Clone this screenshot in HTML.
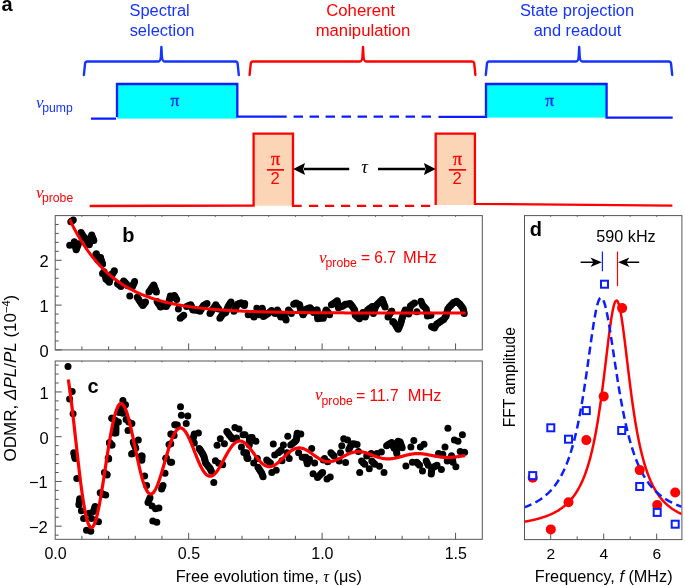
<!DOCTYPE html>
<html><head><meta charset="utf-8"><title>Figure</title>
<style>html,body{margin:0;padding:0;background:#fff;overflow:hidden}svg{display:block}</style>
</head><body>
<svg width="685" height="586" viewBox="0 0 685 586"><text x="1.5" y="11" font-family="'Liberation Sans', Arial, Helvetica, sans-serif" font-weight="bold" font-size="20">a</text>
<g font-family="'Liberation Sans', Arial, Helvetica, sans-serif">
<text x="159.6" y="16.4" font-size="16.45" fill="#1434ff" text-anchor="middle" >Spectral</text>
<text x="162.1" y="36.2" font-size="16.45" fill="#1434ff" text-anchor="middle" >selection</text>
<text x="360.6" y="16.2" font-size="16.7" fill="#ff0000" text-anchor="middle" >Coherent</text>
<text x="363.0" y="36.2" font-size="16.7" fill="#ff0000" text-anchor="middle" >manipulation</text>
<text x="577.0" y="16.4" font-size="16.45" fill="#1434ff" text-anchor="middle" >State projection</text>
<text x="577.5" y="36.2" font-size="16.45" fill="#1434ff" text-anchor="middle" >and readout</text>
</g>
<path d="M83.9,75.0 L85.0,64.1 Q85.2,61.5 87.30000000000001,61.5 L158.20000000000002,61.5 Q160.5,61.5 160.9,56.5 L161.4,47.0 L161.9,56.5 Q162.3,61.5 164.6,61.5 L235.4,61.5 Q237.5,61.5 237.70000000000002,64.1 L238.8,75.0" fill="none" stroke="#1434ff" stroke-width="2.4" stroke-linejoin="round" stroke-linecap="round"/>
<path d="M249.6,75.0 L250.7,64.1 Q250.9,61.5 253.0,61.5 L359.8,61.5 Q362.1,61.5 362.5,56.5 L363.0,47.0 L363.5,56.5 Q363.9,61.5 366.2,61.5 L472.0,61.5 Q474.09999999999997,61.5 474.29999999999995,64.1 L475.4,75.0" fill="none" stroke="#ff0000" stroke-width="2.4" stroke-linejoin="round" stroke-linecap="round"/>
<path d="M485.8,75.0 L486.90000000000003,64.1 Q487.1,61.5 489.2,61.5 L576.0,61.5 Q578.3000000000001,61.5 578.7,56.5 L579.2,47.0 L579.7,56.5 Q580.1,61.5 582.4000000000001,61.5 L668.8000000000001,61.5 Q670.9000000000001,61.5 671.1,64.1 L672.2,75.0" fill="none" stroke="#1434ff" stroke-width="2.4" stroke-linejoin="round" stroke-linecap="round"/>
<rect x="117" y="84" width="120.3" height="34.6" fill="#00ffff"/>
<rect x="486" y="84" width="120.6" height="33.6" fill="#00ffff"/>
<g fill="none" stroke="#0a1eff" stroke-width="2.3">
<path d="M91,118.6 L116,118.6 M117,117 L117,84 L237.3,84 L237.3,116.6 L286.7,116.6"/>
<path d="M293.6,116.7 L431.4,116.7" stroke-dasharray="9.4 6.6"/>
<path d="M438.5,116.8 L486,116.8 L486,84 L606.6,84 L606.6,117.5 L672.7,117.6"/>
</g>
<text x="174.9" y="105.6" font-family="'Liberation Serif', 'Times New Roman', serif" font-size="17.5" fill="#0a1eff" stroke="#0a1eff" stroke-width="0.35" text-anchor="middle">π</text>
<text x="549.7" y="105.6" font-family="'Liberation Serif', 'Times New Roman', serif" font-size="17.5" fill="#0a1eff" stroke="#0a1eff" stroke-width="0.35" text-anchor="middle">π</text>
<text x="36" y="107.6" font-family="'Liberation Serif', 'Times New Roman', serif" font-style="italic" font-size="17" fill="#1434ff">ν</text>
<text x="42.2" y="111.9" font-family="'Liberation Sans', Arial, Helvetica, sans-serif" font-size="12.2" fill="#1434ff">pump</text>
<rect x="253.6" y="133.7" width="39.4" height="72" fill="#fbd5b6"/>
<rect x="435.7" y="133.7" width="39.2" height="71.3" fill="#fbd5b6"/>
<g fill="none" stroke="#ff0000" stroke-width="2.3">
<path d="M89.7,206 L253.6,205.5 L253.6,133.7 L293,133.7 L293,205.9 L301.7,205.9"/>
<path d="M309,205.9 L430.5,205.9" stroke-dasharray="9.2 6.8"/>
<path d="M435.7,205 L435.7,133.7 L474.9,133.7 L474.9,203.8 L672.4,205.7"/>
</g>
<text x="275.5" y="165.4" font-family="'Liberation Serif', 'Times New Roman', serif" font-size="18" fill="#ff0000" stroke="#ff0000" stroke-width="0.35" text-anchor="middle">π</text>
<rect x="266.9" y="169" width="17.2" height="1.7" fill="#ff0000"/>
<text x="275.2" y="183.8" font-family="'Liberation Sans', Arial, Helvetica, sans-serif" font-size="16.5" fill="#ff0000" text-anchor="middle">2</text>
<text x="457.5" y="165.4" font-family="'Liberation Serif', 'Times New Roman', serif" font-size="18" fill="#ff0000" stroke="#ff0000" stroke-width="0.35" text-anchor="middle">π</text>
<rect x="448.9" y="169" width="17.2" height="1.7" fill="#ff0000"/>
<text x="457.2" y="183.8" font-family="'Liberation Sans', Arial, Helvetica, sans-serif" font-size="16.5" fill="#ff0000" text-anchor="middle">2</text>
<text x="36" y="197.6" font-family="'Liberation Serif', 'Times New Roman', serif" font-style="italic" font-size="17" fill="#ff0000">ν</text>
<text x="42" y="201.5" font-family="'Liberation Sans', Arial, Helvetica, sans-serif" font-size="12.2" fill="#ff0000">probe</text>
<path d="M304,169 L349.2,169 M378,169 L425,169" stroke="#000" stroke-width="2.5"/>
<path d="M293.2,168.9 L305,162.9 L303.2,168.9 L305,174.9 Z" fill="#000"/>
<path d="M435.7,168.9 L423.9,162.9 L425.7,168.9 L423.9,174.9 Z" fill="#000"/>
<text x="364.6" y="172.6" font-family="'Liberation Serif', 'Times New Roman', serif" font-style="italic" font-size="18.5" text-anchor="middle">τ</text>
<rect x="55.2" y="215.6" width="427.1" height="134.29999999999998" fill="none" stroke="#555" stroke-width="1"/>
<rect x="55.2" y="361.0" width="427.1" height="178.29999999999995" fill="none" stroke="#555" stroke-width="1"/>
<rect x="524.5" y="215.6" width="157.39999999999998" height="324.0" fill="none" stroke="#555" stroke-width="1"/>
<path d="M55.2,349.90h6.5 M55.2,340.94h3.5 M55.2,331.98h3.5 M55.2,323.02h3.5 M55.2,314.06h3.5 M55.2,305.10h6.5 M55.2,296.14h3.5 M55.2,287.18h3.5 M55.2,278.22h3.5 M55.2,269.26h3.5 M55.2,260.30h6.5 M55.2,251.34h3.5 M55.2,242.38h3.5 M55.2,233.42h3.5 M55.2,224.46h3.5 M55.2,535.15h3.5 M55.2,526.20h6.5 M55.2,517.25h3.5 M55.2,508.30h3.5 M55.2,499.35h3.5 M55.2,490.40h3.5 M55.2,481.45h6.5 M55.2,472.50h3.5 M55.2,463.55h3.5 M55.2,454.60h3.5 M55.2,445.65h3.5 M55.2,436.70h6.5 M55.2,427.75h3.5 M55.2,418.80h3.5 M55.2,409.85h3.5 M55.2,400.90h3.5 M55.2,391.95h6.5 M55.2,383.00h3.5 M55.2,374.05h3.5 M55.2,365.10h3.5 M81.89,349.9v-3.5 M81.89,539.3v-3.5 M81.89,215.6v1.2 M81.89,361v1.2 M108.58,349.9v-3.5 M108.58,539.3v-3.5 M108.58,215.6v1.2 M108.58,361v1.2 M135.27,349.9v-3.5 M135.27,539.3v-3.5 M135.27,215.6v1.2 M135.27,361v1.2 M161.96,349.9v-3.5 M161.96,539.3v-3.5 M161.96,215.6v1.2 M161.96,361v1.2 M188.65,349.9v-6.5 M188.65,539.3v-6.5 M188.65,215.6v1.2 M188.65,361v1.2 M215.34,349.9v-3.5 M215.34,539.3v-3.5 M215.34,215.6v1.2 M215.34,361v1.2 M242.03,349.9v-3.5 M242.03,539.3v-3.5 M242.03,215.6v1.2 M242.03,361v1.2 M268.72,349.9v-3.5 M268.72,539.3v-3.5 M268.72,215.6v1.2 M268.72,361v1.2 M295.41,349.9v-3.5 M295.41,539.3v-3.5 M295.41,215.6v1.2 M295.41,361v1.2 M322.10,349.9v-6.5 M322.10,539.3v-6.5 M322.10,215.6v1.2 M322.10,361v1.2 M348.79,349.9v-3.5 M348.79,539.3v-3.5 M348.79,215.6v1.2 M348.79,361v1.2 M375.48,349.9v-3.5 M375.48,539.3v-3.5 M375.48,215.6v1.2 M375.48,361v1.2 M402.17,349.9v-3.5 M402.17,539.3v-3.5 M402.17,215.6v1.2 M402.17,361v1.2 M428.86,349.9v-3.5 M428.86,539.3v-3.5 M428.86,215.6v1.2 M428.86,361v1.2 M455.55,349.9v-6.5 M455.55,539.3v-6.5 M455.55,215.6v1.2 M455.55,361v1.2 M550.70,539.6v-6 M550.70,215.6v1.2 M577.20,539.6v-3.2 M577.20,215.6v1.2 M603.70,539.6v-6 M603.70,215.6v1.2 M630.20,539.6v-3.2 M630.20,215.6v1.2 M656.70,539.6v-6 M656.70,215.6v1.2" stroke="#555" stroke-width="1" fill="none"/>
<g font-family="'Liberation Sans', Arial, Helvetica, sans-serif" font-size="15.5" text-anchor="end">
<text x="48.6" y="356.7" font-size="16.5" fill="#000" text-anchor="end" >0</text>
<text x="48.6" y="311.9" font-size="16.5" fill="#000" text-anchor="end" >1</text>
<text x="48.6" y="267.09999999999997" font-size="16.5" fill="#000" text-anchor="end" >2</text>
<text x="48.6" y="398.75" font-size="16.5" fill="#000" text-anchor="end" >1</text>
<text x="48.6" y="443.5" font-size="16.5" fill="#000" text-anchor="end" >0</text>
<text x="47.8" y="488.25" font-size="16.5" fill="#000" text-anchor="end" >−1</text>
<text x="47.8" y="533.0" font-size="16.5" fill="#000" text-anchor="end" >−2</text>
</g>
<g font-family="'Liberation Sans', Arial, Helvetica, sans-serif" font-size="15.5">
<text x="55.5" y="559.2" font-size="16" fill="#000" text-anchor="middle" >0.0</text>
<text x="188.95" y="559.2" font-size="16" fill="#000" text-anchor="middle" >0.5</text>
<text x="322.4" y="559.2" font-size="16" fill="#000" text-anchor="middle" >1.0</text>
<text x="455.84999999999997" y="559.2" font-size="16" fill="#000" text-anchor="middle" >1.5</text>
<text x="550.7" y="559.2" font-size="15.5" fill="#000" text-anchor="middle" >2</text>
<text x="603.7" y="559.2" font-size="15.5" fill="#000" text-anchor="middle" >4</text>
<text x="656.7" y="559.2" font-size="15.5" fill="#000" text-anchor="middle" >6</text>
</g>
<text x="268.8" y="581.9" font-family="'Liberation Sans', Arial, Helvetica, sans-serif" font-size="16.3" text-anchor="middle">Free evolution time, <tspan font-family="'Liberation Serif', 'Times New Roman', serif" font-style="italic">τ</tspan> (μs)</text>
<text x="603.7" y="581.8" font-family="'Liberation Sans', Arial, Helvetica, sans-serif" font-size="16.25" text-anchor="middle">Frequency, <tspan font-style="italic">f</tspan> (MHz)</text>
<text transform="translate(15.6,378.1) rotate(-90)" font-family="'Liberation Sans', Arial, Helvetica, sans-serif" font-size="17" text-anchor="middle">ODMR, <tspan font-style="italic">ΔPL</tspan>/<tspan font-style="italic">PL</tspan> (10<tspan font-size="11" dy="-6">−4</tspan><tspan dy="6">)</tspan></text>
<text transform="translate(515.3,377.2) rotate(-90)" font-family="'Liberation Sans', Arial, Helvetica, sans-serif" font-size="15.6" text-anchor="middle">FFT amplitude</text>
<g font-family="'Liberation Sans', Arial, Helvetica, sans-serif" font-weight="bold" font-size="20">
<text x="122.2" y="241.5">b</text>
<text x="87.6" y="392.8">c</text>
<text x="529.8" y="236.4">d</text>
</g>
<text x="319" y="262.6" font-family="'Liberation Sans', Arial, Helvetica, sans-serif" font-size="15.5" fill="#ff0000"><tspan font-family="'Liberation Serif', 'Times New Roman', serif" font-style="italic" font-size="17">ν</tspan><tspan font-size="12.2" dy="4.3" dx="-1">probe</tspan></text>
<text transform="translate(0,262.6) scale(1,1.12)" x="361.0" y="0" font-family="'Liberation Sans', Arial, Helvetica, sans-serif" font-size="15.5" fill="#ff0000">= 6.7</text>
<text transform="translate(403.0,262.6) scale(1.06,1.12)" x="0" y="0" font-family="'Liberation Sans', Arial, Helvetica, sans-serif" font-size="15.5" fill="#ff0000">MHz</text>
<text x="315" y="400.2" font-family="'Liberation Sans', Arial, Helvetica, sans-serif" font-size="15.5" fill="#ff0000"><tspan font-family="'Liberation Serif', 'Times New Roman', serif" font-style="italic" font-size="17">ν</tspan><tspan font-size="12.2" dy="4.3" dx="-1">probe</tspan></text>
<text transform="translate(0,400.6) scale(1,1.12)" x="356.2" y="0" font-family="'Liberation Sans', Arial, Helvetica, sans-serif" font-size="15.5" fill="#ff0000">= 11.7</text>
<text transform="translate(407.7,400.6) scale(1.06,1.12)" x="0" y="0" font-family="'Liberation Sans', Arial, Helvetica, sans-serif" font-size="15.5" fill="#ff0000">MHz</text>
<g fill="#000"><circle cx="69.7" cy="245.2" r="3.5"/><circle cx="70.8" cy="221.7" r="3.5"/><circle cx="73.3" cy="220.1" r="3.5"/><circle cx="74.3" cy="241.8" r="3.5"/><circle cx="76.2" cy="249.8" r="3.5"/><circle cx="78.4" cy="243.7" r="3.5"/><circle cx="81.0" cy="232.4" r="3.5"/><circle cx="83.5" cy="236.5" r="3.5"/><circle cx="86.6" cy="239.6" r="3.5"/><circle cx="89.2" cy="244.7" r="3.5"/><circle cx="90.7" cy="239.6" r="3.5"/><circle cx="91.7" cy="235.0" r="3.5"/><circle cx="93.8" cy="240.6" r="3.5"/><circle cx="95.8" cy="254.4" r="3.5"/><circle cx="96.4" cy="253.7" r="3.5"/><circle cx="97.9" cy="260.0" r="3.5"/><circle cx="100.4" cy="257.5" r="3.5"/><circle cx="100.5" cy="257.7" r="3.5"/><circle cx="102.5" cy="263.9" r="3.5"/><circle cx="102.5" cy="264.1" r="3.5"/><circle cx="102.5" cy="273.4" r="3.5"/><circle cx="104.0" cy="271.8" r="3.5"/><circle cx="105.9" cy="278.9" r="3.5"/><circle cx="109.3" cy="282.3" r="3.5"/><circle cx="111.2" cy="274.4" r="3.5"/><circle cx="111.4" cy="275.5" r="3.5"/><circle cx="114.1" cy="271.4" r="3.5"/><circle cx="114.3" cy="270.8" r="3.5"/><circle cx="117.5" cy="283.7" r="3.5"/><circle cx="120.9" cy="286.4" r="3.5"/><circle cx="123.7" cy="281.0" r="3.5"/><circle cx="127.8" cy="285.7" r="3.5"/><circle cx="129.8" cy="296.0" r="3.5"/><circle cx="132.5" cy="286.4" r="3.5"/><circle cx="134.6" cy="281.6" r="3.5"/><circle cx="137.3" cy="297.3" r="3.5"/><circle cx="140.0" cy="301.4" r="3.5"/><circle cx="142.8" cy="305.5" r="3.5"/><circle cx="145.5" cy="302.1" r="3.5"/><circle cx="148.9" cy="291.9" r="3.5"/><circle cx="153.7" cy="285.0" r="3.5"/><circle cx="155.8" cy="290.5" r="3.5"/><circle cx="156.4" cy="291.9" r="3.5"/><circle cx="157.1" cy="301.4" r="3.5"/><circle cx="160.5" cy="306.9" r="3.5"/><circle cx="164.6" cy="305.5" r="3.5"/><circle cx="166.2" cy="306.5" r="3.5"/><circle cx="168.7" cy="302.8" r="3.5"/><circle cx="170.3" cy="296.0" r="3.5"/><circle cx="171.5" cy="297.3" r="3.5"/><circle cx="174.2" cy="296.0" r="3.5"/><circle cx="174.3" cy="295.4" r="3.5"/><circle cx="176.7" cy="299.5" r="3.5"/><circle cx="178.4" cy="308.9" r="3.5"/><circle cx="180.2" cy="318.2" r="3.5"/><circle cx="183.7" cy="315.3" r="3.5"/><circle cx="186.6" cy="306.5" r="3.5"/><circle cx="190.7" cy="304.8" r="3.5"/><circle cx="193.0" cy="310.0" r="3.5"/><circle cx="196.5" cy="310.0" r="3.5"/><circle cx="200.0" cy="311.2" r="3.5"/><circle cx="203.5" cy="305.4" r="3.5"/><circle cx="207.0" cy="303.6" r="3.5"/><circle cx="210.0" cy="313.5" r="3.5"/><circle cx="212.9" cy="308.9" r="3.5"/><circle cx="215.8" cy="304.8" r="3.5"/><circle cx="218.7" cy="308.9" r="3.5"/><circle cx="219.9" cy="318.2" r="3.5"/><circle cx="222.2" cy="314.7" r="3.5"/><circle cx="225.7" cy="312.4" r="3.5"/><circle cx="228.1" cy="306.5" r="3.5"/><circle cx="231.0" cy="301.9" r="3.5"/><circle cx="233.9" cy="311.2" r="3.5"/><circle cx="237.4" cy="304.2" r="3.5"/><circle cx="240.9" cy="303.0" r="3.5"/><circle cx="241.2" cy="303.0" r="3.5"/><circle cx="244.4" cy="305.4" r="3.5"/><circle cx="244.7" cy="303.6" r="3.5"/><circle cx="248.2" cy="314.7" r="3.5"/><circle cx="251.1" cy="313.5" r="3.5"/><circle cx="254.0" cy="317.0" r="3.5"/><circle cx="256.9" cy="308.3" r="3.5"/><circle cx="258.7" cy="314.7" r="3.5"/><circle cx="262.2" cy="308.3" r="3.5"/><circle cx="263.4" cy="316.5" r="3.5"/><circle cx="268.0" cy="313.5" r="3.5"/><circle cx="271.5" cy="310.6" r="3.5"/><circle cx="275.0" cy="313.5" r="3.5"/><circle cx="277.4" cy="310.0" r="3.5"/><circle cx="280.9" cy="317.0" r="3.5"/><circle cx="283.8" cy="314.7" r="3.5"/><circle cx="286.1" cy="320.0" r="3.5"/><circle cx="288.5" cy="310.0" r="3.5"/><circle cx="291.4" cy="313.5" r="3.5"/><circle cx="293.7" cy="304.2" r="3.5"/><circle cx="296.1" cy="303.0" r="3.5"/><circle cx="299.6" cy="304.8" r="3.5"/><circle cx="300.7" cy="310.0" r="3.5"/><circle cx="303.1" cy="314.7" r="3.5"/><circle cx="306.6" cy="308.9" r="3.5"/><circle cx="310.1" cy="307.7" r="3.5"/><circle cx="313.6" cy="312.4" r="3.5"/><circle cx="316.8" cy="310.0" r="3.5"/><circle cx="317.1" cy="310.0" r="3.5"/><circle cx="317.7" cy="318.8" r="3.5"/><circle cx="318.5" cy="318.2" r="3.5"/><circle cx="323.2" cy="318.2" r="3.5"/><circle cx="326.1" cy="310.0" r="3.5"/><circle cx="329.6" cy="314.7" r="3.5"/><circle cx="331.4" cy="304.8" r="3.5"/><circle cx="334.3" cy="303.0" r="3.5"/><circle cx="337.2" cy="300.7" r="3.5"/><circle cx="338.4" cy="307.7" r="3.5"/><circle cx="341.9" cy="306.5" r="3.5"/><circle cx="345.4" cy="304.2" r="3.5"/><circle cx="350.0" cy="303.6" r="3.5"/><circle cx="352.4" cy="306.5" r="3.5"/><circle cx="354.7" cy="310.0" r="3.5"/><circle cx="355.3" cy="315.3" r="3.5"/><circle cx="359.4" cy="318.8" r="3.5"/><circle cx="362.9" cy="312.4" r="3.5"/><circle cx="365.2" cy="317.0" r="3.5"/><circle cx="367.6" cy="310.0" r="3.5"/><circle cx="372.2" cy="306.5" r="3.5"/><circle cx="373.4" cy="313.5" r="3.5"/><circle cx="375.7" cy="306.0" r="3.5"/><circle cx="378.6" cy="303.0" r="3.5"/><circle cx="382.2" cy="299.5" r="3.5"/><circle cx="385.1" cy="307.1" r="3.5"/><circle cx="388.0" cy="317.0" r="3.5"/><circle cx="391.5" cy="311.2" r="3.5"/><circle cx="391.8" cy="311.2" r="3.5"/><circle cx="392.7" cy="321.7" r="3.5"/><circle cx="393.5" cy="321.7" r="3.5"/><circle cx="398.2" cy="329.3" r="3.5"/><circle cx="400.5" cy="324.0" r="3.5"/><circle cx="402.8" cy="315.9" r="3.5"/><circle cx="405.2" cy="310.0" r="3.5"/><circle cx="408.7" cy="314.1" r="3.5"/><circle cx="410.4" cy="306.0" r="3.5"/><circle cx="414.5" cy="303.0" r="3.5"/><circle cx="416.9" cy="311.8" r="3.5"/><circle cx="421.0" cy="301.3" r="3.5"/><circle cx="422.7" cy="305.4" r="3.5"/><circle cx="426.2" cy="308.9" r="3.5"/><circle cx="427.4" cy="315.9" r="3.5"/><circle cx="430.9" cy="315.3" r="3.5"/><circle cx="431.5" cy="326.4" r="3.5"/><circle cx="434.4" cy="328.1" r="3.5"/><circle cx="436.7" cy="324.0" r="3.5"/><circle cx="440.2" cy="321.7" r="3.5"/><circle cx="443.7" cy="319.4" r="3.5"/><circle cx="446.1" cy="315.9" r="3.5"/><circle cx="447.8" cy="308.9" r="3.5"/><circle cx="450.7" cy="305.4" r="3.5"/><circle cx="453.6" cy="302.4" r="3.5"/><circle cx="456.6" cy="301.3" r="3.5"/><circle cx="460.0" cy="304.2" r="3.5"/><circle cx="463.0" cy="308.3" r="3.5"/><circle cx="464.2" cy="313.5" r="3.5"/><circle cx="72.0" cy="220.9" r="3.5"/><circle cx="74.8" cy="243.8" r="3.5"/><circle cx="75.2" cy="245.8" r="3.5"/><circle cx="75.7" cy="247.8" r="3.5"/><circle cx="76.9" cy="247.8" r="3.5"/><circle cx="77.7" cy="245.7" r="3.5"/><circle cx="82.2" cy="234.4" r="3.5"/><circle cx="85.0" cy="238.1" r="3.5"/><circle cx="87.5" cy="241.3" r="3.5"/><circle cx="88.3" cy="243.0" r="3.5"/><circle cx="89.7" cy="243.0" r="3.5"/><circle cx="90.2" cy="241.3" r="3.5"/><circle cx="91.2" cy="237.3" r="3.5"/><circle cx="92.4" cy="236.9" r="3.5"/><circle cx="93.1" cy="238.7" r="3.5"/><circle cx="96.9" cy="255.8" r="3.5"/><circle cx="97.4" cy="257.9" r="3.5"/><circle cx="99.2" cy="258.8" r="3.5"/><circle cx="101.2" cy="259.8" r="3.5"/><circle cx="101.8" cy="261.8" r="3.5"/><circle cx="104.6" cy="274.2" r="3.5"/><circle cx="105.3" cy="276.5" r="3.5"/><circle cx="107.6" cy="280.6" r="3.5"/><circle cx="109.8" cy="280.3" r="3.5"/><circle cx="110.2" cy="278.4" r="3.5"/><circle cx="110.7" cy="276.4" r="3.5"/><circle cx="112.8" cy="273.4" r="3.5"/><circle cx="119.2" cy="285.0" r="3.5"/><circle cx="121.8" cy="284.6" r="3.5"/><circle cx="122.8" cy="282.8" r="3.5"/><circle cx="125.1" cy="282.6" r="3.5"/><circle cx="126.4" cy="284.1" r="3.5"/><circle cx="133.2" cy="284.8" r="3.5"/><circle cx="133.9" cy="283.2" r="3.5"/><circle cx="138.7" cy="299.4" r="3.5"/><circle cx="141.4" cy="303.4" r="3.5"/><circle cx="144.2" cy="303.8" r="3.5"/><circle cx="150.1" cy="290.2" r="3.5"/><circle cx="151.3" cy="288.4" r="3.5"/><circle cx="152.5" cy="286.7" r="3.5"/><circle cx="154.4" cy="286.8" r="3.5"/><circle cx="155.1" cy="288.7" r="3.5"/><circle cx="158.2" cy="303.2" r="3.5"/><circle cx="159.4" cy="305.1" r="3.5"/><circle cx="162.6" cy="306.2" r="3.5"/><circle cx="167.4" cy="304.6" r="3.5"/><circle cx="169.2" cy="300.5" r="3.5"/><circle cx="169.8" cy="298.3" r="3.5"/><circle cx="172.8" cy="296.6" r="3.5"/><circle cx="175.5" cy="297.4" r="3.5"/><circle cx="181.9" cy="316.8" r="3.5"/><circle cx="188.6" cy="305.6" r="3.5"/><circle cx="191.5" cy="306.5" r="3.5"/><circle cx="192.2" cy="308.3" r="3.5"/><circle cx="194.8" cy="310.0" r="3.5"/><circle cx="198.2" cy="310.6" r="3.5"/><circle cx="201.2" cy="309.3" r="3.5"/><circle cx="202.3" cy="307.3" r="3.5"/><circle cx="205.2" cy="304.5" r="3.5"/><circle cx="211.0" cy="312.0" r="3.5"/><circle cx="211.9" cy="310.4" r="3.5"/><circle cx="214.4" cy="306.9" r="3.5"/><circle cx="217.2" cy="306.9" r="3.5"/><circle cx="221.1" cy="316.4" r="3.5"/><circle cx="223.9" cy="313.5" r="3.5"/><circle cx="226.5" cy="310.4" r="3.5"/><circle cx="227.3" cy="308.5" r="3.5"/><circle cx="229.1" cy="305.0" r="3.5"/><circle cx="230.0" cy="303.4" r="3.5"/><circle cx="234.8" cy="309.4" r="3.5"/><circle cx="235.7" cy="307.7" r="3.5"/><circle cx="236.5" cy="305.9" r="3.5"/><circle cx="239.2" cy="303.6" r="3.5"/><circle cx="242.8" cy="304.2" r="3.5"/><circle cx="249.6" cy="314.1" r="3.5"/><circle cx="252.6" cy="315.2" r="3.5"/><circle cx="257.5" cy="310.4" r="3.5"/><circle cx="258.1" cy="312.6" r="3.5"/><circle cx="259.9" cy="312.6" r="3.5"/><circle cx="261.0" cy="310.4" r="3.5"/><circle cx="262.5" cy="310.4" r="3.5"/><circle cx="262.8" cy="312.4" r="3.5"/><circle cx="263.1" cy="314.4" r="3.5"/><circle cx="264.9" cy="315.5" r="3.5"/><circle cx="266.5" cy="314.5" r="3.5"/><circle cx="269.8" cy="312.1" r="3.5"/><circle cx="273.2" cy="312.1" r="3.5"/><circle cx="276.2" cy="311.8" r="3.5"/><circle cx="278.3" cy="311.8" r="3.5"/><circle cx="279.1" cy="313.5" r="3.5"/><circle cx="280.0" cy="315.2" r="3.5"/><circle cx="282.4" cy="315.9" r="3.5"/><circle cx="284.6" cy="316.5" r="3.5"/><circle cx="285.3" cy="318.2" r="3.5"/><circle cx="289.9" cy="311.8" r="3.5"/><circle cx="294.9" cy="303.6" r="3.5"/><circle cx="297.9" cy="303.9" r="3.5"/><circle cx="300.0" cy="306.5" r="3.5"/><circle cx="300.3" cy="308.3" r="3.5"/><circle cx="301.5" cy="311.6" r="3.5"/><circle cx="302.3" cy="313.1" r="3.5"/><circle cx="304.3" cy="312.8" r="3.5"/><circle cx="305.4" cy="310.8" r="3.5"/><circle cx="308.4" cy="308.3" r="3.5"/><circle cx="311.3" cy="309.3" r="3.5"/><circle cx="312.4" cy="310.8" r="3.5"/><circle cx="315.2" cy="311.2" r="3.5"/><circle cx="317.2" cy="312.2" r="3.5"/><circle cx="317.4" cy="314.4" r="3.5"/><circle cx="317.6" cy="316.6" r="3.5"/><circle cx="320.9" cy="318.2" r="3.5"/><circle cx="323.9" cy="316.1" r="3.5"/><circle cx="324.6" cy="314.1" r="3.5"/><circle cx="325.4" cy="312.1" r="3.5"/><circle cx="327.3" cy="311.6" r="3.5"/><circle cx="328.4" cy="313.1" r="3.5"/><circle cx="332.9" cy="303.9" r="3.5"/><circle cx="335.8" cy="301.9" r="3.5"/><circle cx="337.6" cy="303.0" r="3.5"/><circle cx="338.0" cy="305.4" r="3.5"/><circle cx="340.1" cy="307.1" r="3.5"/><circle cx="343.6" cy="305.4" r="3.5"/><circle cx="347.7" cy="303.9" r="3.5"/><circle cx="351.2" cy="305.1" r="3.5"/><circle cx="353.5" cy="308.2" r="3.5"/><circle cx="354.9" cy="311.8" r="3.5"/><circle cx="355.1" cy="313.5" r="3.5"/><circle cx="356.7" cy="316.5" r="3.5"/><circle cx="358.0" cy="317.6" r="3.5"/><circle cx="360.6" cy="316.7" r="3.5"/><circle cx="361.7" cy="314.5" r="3.5"/><circle cx="364.0" cy="314.7" r="3.5"/><circle cx="366.0" cy="314.7" r="3.5"/><circle cx="366.8" cy="312.3" r="3.5"/><circle cx="369.1" cy="308.8" r="3.5"/><circle cx="370.7" cy="307.7" r="3.5"/><circle cx="372.6" cy="308.8" r="3.5"/><circle cx="373.0" cy="311.2" r="3.5"/><circle cx="374.0" cy="311.6" r="3.5"/><circle cx="374.5" cy="309.8" r="3.5"/><circle cx="375.1" cy="307.9" r="3.5"/><circle cx="377.1" cy="304.5" r="3.5"/><circle cx="380.4" cy="301.2" r="3.5"/><circle cx="382.9" cy="301.4" r="3.5"/><circle cx="383.6" cy="303.3" r="3.5"/><circle cx="384.4" cy="305.2" r="3.5"/><circle cx="389.2" cy="315.1" r="3.5"/><circle cx="390.3" cy="313.1" r="3.5"/><circle cx="394.7" cy="323.6" r="3.5"/><circle cx="395.9" cy="325.5" r="3.5"/><circle cx="397.0" cy="327.4" r="3.5"/><circle cx="399.0" cy="327.5" r="3.5"/><circle cx="399.7" cy="325.8" r="3.5"/><circle cx="401.1" cy="322.0" r="3.5"/><circle cx="401.6" cy="319.9" r="3.5"/><circle cx="402.2" cy="317.9" r="3.5"/><circle cx="403.6" cy="313.9" r="3.5"/><circle cx="404.4" cy="312.0" r="3.5"/><circle cx="406.4" cy="311.4" r="3.5"/><circle cx="407.5" cy="312.7" r="3.5"/><circle cx="409.1" cy="312.1" r="3.5"/><circle cx="409.5" cy="310.1" r="3.5"/><circle cx="410.0" cy="308.0" r="3.5"/><circle cx="412.4" cy="304.5" r="3.5"/><circle cx="421.9" cy="303.4" r="3.5"/><circle cx="424.4" cy="307.1" r="3.5"/><circle cx="426.6" cy="311.2" r="3.5"/><circle cx="427.0" cy="313.6" r="3.5"/><circle cx="429.1" cy="315.6" r="3.5"/><circle cx="432.9" cy="327.2" r="3.5"/><circle cx="435.5" cy="326.1" r="3.5"/><circle cx="438.4" cy="322.9" r="3.5"/><circle cx="441.9" cy="320.5" r="3.5"/><circle cx="444.9" cy="317.6" r="3.5"/><circle cx="446.7" cy="313.6" r="3.5"/><circle cx="447.2" cy="311.2" r="3.5"/><circle cx="449.2" cy="307.1" r="3.5"/><circle cx="452.1" cy="303.9" r="3.5"/><circle cx="455.1" cy="301.9" r="3.5"/><circle cx="458.3" cy="302.8" r="3.5"/><circle cx="461.5" cy="306.2" r="3.5"/><circle cx="463.4" cy="310.0" r="3.5"/><circle cx="463.8" cy="311.8" r="3.5"/><circle cx="68.0" cy="366.4" r="3.5"/><circle cx="69.6" cy="399.1" r="3.5"/><circle cx="72.2" cy="391.5" r="3.5"/><circle cx="73.1" cy="413.7" r="3.5"/><circle cx="73.7" cy="452.8" r="3.5"/><circle cx="75.1" cy="458.4" r="3.5"/><circle cx="76.8" cy="478.4" r="3.5"/><circle cx="78.9" cy="504.8" r="3.5"/><circle cx="79.7" cy="498.8" r="3.5"/><circle cx="81.4" cy="510.7" r="3.5"/><circle cx="83.6" cy="518.4" r="3.5"/><circle cx="86.5" cy="530.3" r="3.5"/><circle cx="89.1" cy="513.3" r="3.5"/><circle cx="90.8" cy="531.2" r="3.5"/><circle cx="91.6" cy="518.4" r="3.5"/><circle cx="93.4" cy="511.6" r="3.5"/><circle cx="95.1" cy="506.5" r="3.5"/><circle cx="98.5" cy="521.8" r="3.5"/><circle cx="100.2" cy="492.8" r="3.5"/><circle cx="103.6" cy="494.5" r="3.5"/><circle cx="104.4" cy="472.4" r="3.5"/><circle cx="105.7" cy="495.0" r="3.5"/><circle cx="107.0" cy="474.6" r="3.5"/><circle cx="107.0" cy="474.9" r="3.5"/><circle cx="108.2" cy="458.0" r="3.5"/><circle cx="108.4" cy="458.9" r="3.5"/><circle cx="108.7" cy="458.7" r="3.5"/><circle cx="109.5" cy="442.6" r="3.5"/><circle cx="109.5" cy="442.9" r="3.5"/><circle cx="110.4" cy="443.4" r="3.5"/><circle cx="111.4" cy="445.1" r="3.5"/><circle cx="111.8" cy="418.3" r="3.5"/><circle cx="112.0" cy="418.3" r="3.5"/><circle cx="112.1" cy="445.1" r="3.5"/><circle cx="114.1" cy="432.9" r="3.5"/><circle cx="115.2" cy="420.2" r="3.5"/><circle cx="115.9" cy="426.0" r="3.5"/><circle cx="115.9" cy="433.0" r="3.5"/><circle cx="118.4" cy="422.1" r="3.5"/><circle cx="119.1" cy="412.5" r="3.5"/><circle cx="121.0" cy="408.0" r="3.5"/><circle cx="122.9" cy="400.4" r="3.5"/><circle cx="122.9" cy="413.2" r="3.5"/><circle cx="125.5" cy="404.8" r="3.5"/><circle cx="126.1" cy="419.6" r="3.5"/><circle cx="128.0" cy="430.4" r="3.5"/><circle cx="128.7" cy="422.1" r="3.5"/><circle cx="131.6" cy="454.1" r="3.5"/><circle cx="131.9" cy="423.4" r="3.5"/><circle cx="132.5" cy="453.5" r="3.5"/><circle cx="133.2" cy="442.0" r="3.5"/><circle cx="135.7" cy="448.3" r="3.5"/><circle cx="138.3" cy="440.0" r="3.5"/><circle cx="141.2" cy="456.1" r="3.5"/><circle cx="141.8" cy="460.2" r="3.5"/><circle cx="142.1" cy="456.0" r="3.5"/><circle cx="144.6" cy="475.9" r="3.5"/><circle cx="146.6" cy="485.5" r="3.5"/><circle cx="148.0" cy="502.5" r="3.5"/><circle cx="150.0" cy="497.8" r="3.5"/><circle cx="152.1" cy="505.9" r="3.5"/><circle cx="152.8" cy="521.0" r="3.5"/><circle cx="155.5" cy="508.7" r="3.5"/><circle cx="156.8" cy="522.3" r="3.5"/><circle cx="158.9" cy="508.0" r="3.5"/><circle cx="161.6" cy="488.9" r="3.5"/><circle cx="163.0" cy="485.5" r="3.5"/><circle cx="165.0" cy="473.2" r="3.5"/><circle cx="165.7" cy="458.2" r="3.5"/><circle cx="166.4" cy="458.0" r="3.5"/><circle cx="169.0" cy="444.5" r="3.5"/><circle cx="170.5" cy="462.3" r="3.5"/><circle cx="170.8" cy="433.9" r="3.5"/><circle cx="170.8" cy="443.7" r="3.5"/><circle cx="171.5" cy="434.3" r="3.5"/><circle cx="171.6" cy="462.3" r="3.5"/><circle cx="174.1" cy="435.6" r="3.5"/><circle cx="174.7" cy="424.7" r="3.5"/><circle cx="177.3" cy="425.0" r="3.5"/><circle cx="180.5" cy="406.7" r="3.5"/><circle cx="181.4" cy="415.3" r="3.5"/><circle cx="186.2" cy="423.4" r="3.5"/><circle cx="187.8" cy="416.1" r="3.5"/><circle cx="192.7" cy="440.4" r="3.5"/><circle cx="194.3" cy="433.9" r="3.5"/><circle cx="194.3" cy="442.9" r="3.5"/><circle cx="198.4" cy="433.1" r="3.5"/><circle cx="199.2" cy="448.5" r="3.5"/><circle cx="202.5" cy="453.4" r="3.5"/><circle cx="204.1" cy="456.7" r="3.5"/><circle cx="205.7" cy="463.2" r="3.5"/><circle cx="209.8" cy="468.0" r="3.5"/><circle cx="211.4" cy="471.3" r="3.5"/><circle cx="213.8" cy="482.6" r="3.5"/><circle cx="215.4" cy="460.7" r="3.5"/><circle cx="217.1" cy="445.3" r="3.5"/><circle cx="218.7" cy="463.2" r="3.5"/><circle cx="220.3" cy="438.8" r="3.5"/><circle cx="222.7" cy="464.8" r="3.5"/><circle cx="224.4" cy="443.7" r="3.5"/><circle cx="226.8" cy="431.5" r="3.5"/><circle cx="229.2" cy="434.8" r="3.5"/><circle cx="232.5" cy="438.8" r="3.5"/><circle cx="234.9" cy="427.5" r="3.5"/><circle cx="236.5" cy="438.0" r="3.5"/><circle cx="239.0" cy="429.1" r="3.5"/><circle cx="241.4" cy="446.9" r="3.5"/><circle cx="243.0" cy="434.8" r="3.5"/><circle cx="243.8" cy="452.6" r="3.5"/><circle cx="245.0" cy="434.7" r="3.5"/><circle cx="246.4" cy="452.8" r="3.5"/><circle cx="247.1" cy="458.3" r="3.5"/><circle cx="247.9" cy="458.6" r="3.5"/><circle cx="249.3" cy="444.9" r="3.5"/><circle cx="249.5" cy="438.0" r="3.5"/><circle cx="252.2" cy="437.6" r="3.5"/><circle cx="253.7" cy="463.0" r="3.5"/><circle cx="255.9" cy="441.2" r="3.5"/><circle cx="257.3" cy="458.6" r="3.5"/><circle cx="258.0" cy="467.3" r="3.5"/><circle cx="261.7" cy="473.1" r="3.5"/><circle cx="263.1" cy="476.7" r="3.5"/><circle cx="266.7" cy="460.1" r="3.5"/><circle cx="270.4" cy="463.0" r="3.5"/><circle cx="271.8" cy="472.4" r="3.5"/><circle cx="273.3" cy="444.1" r="3.5"/><circle cx="274.7" cy="455.0" r="3.5"/><circle cx="276.2" cy="470.2" r="3.5"/><circle cx="278.3" cy="452.8" r="3.5"/><circle cx="281.2" cy="449.9" r="3.5"/><circle cx="282.0" cy="460.8" r="3.5"/><circle cx="283.4" cy="444.9" r="3.5"/><circle cx="287.0" cy="452.8" r="3.5"/><circle cx="287.8" cy="436.2" r="3.5"/><circle cx="289.2" cy="458.6" r="3.5"/><circle cx="290.7" cy="444.9" r="3.5"/><circle cx="294.3" cy="442.0" r="3.5"/><circle cx="296.4" cy="439.8" r="3.5"/><circle cx="297.2" cy="433.3" r="3.5"/><circle cx="298.6" cy="452.8" r="3.5"/><circle cx="300.8" cy="434.0" r="3.5"/><circle cx="302.2" cy="457.2" r="3.5"/><circle cx="305.9" cy="457.2" r="3.5"/><circle cx="307.3" cy="463.7" r="3.5"/><circle cx="309.5" cy="459.3" r="3.5"/><circle cx="311.7" cy="448.5" r="3.5"/><circle cx="313.1" cy="473.8" r="3.5"/><circle cx="314.6" cy="463.0" r="3.5"/><circle cx="317.5" cy="477.5" r="3.5"/><circle cx="321.8" cy="473.1" r="3.5"/><circle cx="322.6" cy="472.6" r="3.5"/><circle cx="323.3" cy="460.1" r="3.5"/><circle cx="324.5" cy="458.5" r="3.5"/><circle cx="327.0" cy="479.0" r="3.5"/><circle cx="327.7" cy="461.7" r="3.5"/><circle cx="330.2" cy="477.1" r="3.5"/><circle cx="330.9" cy="452.8" r="3.5"/><circle cx="334.1" cy="456.0" r="3.5"/><circle cx="339.2" cy="461.1" r="3.5"/><circle cx="340.5" cy="452.8" r="3.5"/><circle cx="341.8" cy="445.7" r="3.5"/><circle cx="343.7" cy="438.7" r="3.5"/><circle cx="345.6" cy="462.4" r="3.5"/><circle cx="347.5" cy="440.0" r="3.5"/><circle cx="348.8" cy="449.6" r="3.5"/><circle cx="350.7" cy="445.7" r="3.5"/><circle cx="352.6" cy="443.8" r="3.5"/><circle cx="357.1" cy="444.4" r="3.5"/><circle cx="358.4" cy="451.5" r="3.5"/><circle cx="359.7" cy="472.6" r="3.5"/><circle cx="361.6" cy="461.1" r="3.5"/><circle cx="364.8" cy="464.3" r="3.5"/><circle cx="366.7" cy="456.0" r="3.5"/><circle cx="369.3" cy="468.8" r="3.5"/><circle cx="371.2" cy="453.4" r="3.5"/><circle cx="371.8" cy="461.1" r="3.5"/><circle cx="375.0" cy="464.3" r="3.5"/><circle cx="377.0" cy="453.4" r="3.5"/><circle cx="379.5" cy="466.2" r="3.5"/><circle cx="381.4" cy="452.1" r="3.5"/><circle cx="384.0" cy="472.6" r="3.5"/><circle cx="386.6" cy="445.7" r="3.5"/><circle cx="391.7" cy="442.5" r="3.5"/><circle cx="394.2" cy="448.3" r="3.5"/><circle cx="396.4" cy="443.5" r="3.5"/><circle cx="396.4" cy="449.3" r="3.5"/><circle cx="396.8" cy="453.4" r="3.5"/><circle cx="398.1" cy="441.2" r="3.5"/><circle cx="400.1" cy="442.0" r="3.5"/><circle cx="402.2" cy="447.8" r="3.5"/><circle cx="405.9" cy="465.9" r="3.5"/><circle cx="410.9" cy="447.1" r="3.5"/><circle cx="412.4" cy="462.3" r="3.5"/><circle cx="413.8" cy="440.6" r="3.5"/><circle cx="416.7" cy="462.3" r="3.5"/><circle cx="419.6" cy="465.2" r="3.5"/><circle cx="420.4" cy="447.1" r="3.5"/><circle cx="422.5" cy="471.0" r="3.5"/><circle cx="424.0" cy="444.2" r="3.5"/><circle cx="426.2" cy="460.9" r="3.5"/><circle cx="428.3" cy="465.2" r="3.5"/><circle cx="431.2" cy="473.9" r="3.5"/><circle cx="432.0" cy="468.1" r="3.5"/><circle cx="437.0" cy="465.2" r="3.5"/><circle cx="438.5" cy="453.6" r="3.5"/><circle cx="441.4" cy="469.6" r="3.5"/><circle cx="442.8" cy="454.3" r="3.5"/><circle cx="445.0" cy="447.1" r="3.5"/><circle cx="447.2" cy="460.9" r="3.5"/><circle cx="447.9" cy="428.3" r="3.5"/><circle cx="451.5" cy="455.8" r="3.5"/><circle cx="453.0" cy="462.3" r="3.5"/><circle cx="454.4" cy="439.9" r="3.5"/><circle cx="455.9" cy="466.7" r="3.5"/><circle cx="458.0" cy="441.3" r="3.5"/><circle cx="460.2" cy="451.4" r="3.5"/><circle cx="462.4" cy="434.8" r="3.5"/><circle cx="464.6" cy="452.2" r="3.5"/><circle cx="74.2" cy="454.7" r="3.5"/><circle cx="74.6" cy="456.5" r="3.5"/><circle cx="79.2" cy="502.8" r="3.5"/><circle cx="79.4" cy="500.8" r="3.5"/><circle cx="94.0" cy="509.9" r="3.5"/><circle cx="94.5" cy="508.2" r="3.5"/><circle cx="101.9" cy="493.6" r="3.5"/><circle cx="115.4" cy="422.1" r="3.5"/><circle cx="115.7" cy="424.1" r="3.5"/><circle cx="115.9" cy="428.3" r="3.5"/><circle cx="115.9" cy="430.7" r="3.5"/><circle cx="120.0" cy="410.2" r="3.5"/><circle cx="134.0" cy="444.1" r="3.5"/><circle cx="134.9" cy="446.2" r="3.5"/><circle cx="141.5" cy="458.1" r="3.5"/><circle cx="141.9" cy="458.1" r="3.5"/><circle cx="149.0" cy="500.1" r="3.5"/><circle cx="162.3" cy="487.2" r="3.5"/><circle cx="176.0" cy="424.9" r="3.5"/><circle cx="193.2" cy="438.2" r="3.5"/><circle cx="193.8" cy="436.1" r="3.5"/><circle cx="200.3" cy="450.1" r="3.5"/><circle cx="201.4" cy="451.8" r="3.5"/><circle cx="203.3" cy="455.0" r="3.5"/><circle cx="204.6" cy="458.9" r="3.5"/><circle cx="205.2" cy="461.0" r="3.5"/><circle cx="207.1" cy="464.8" r="3.5"/><circle cx="208.4" cy="466.4" r="3.5"/><circle cx="210.6" cy="469.6" r="3.5"/><circle cx="228.0" cy="433.1" r="3.5"/><circle cx="230.8" cy="436.8" r="3.5"/><circle cx="246.6" cy="454.6" r="3.5"/><circle cx="246.9" cy="456.5" r="3.5"/><circle cx="249.4" cy="442.6" r="3.5"/><circle cx="249.4" cy="440.3" r="3.5"/><circle cx="250.8" cy="437.8" r="3.5"/><circle cx="259.2" cy="469.2" r="3.5"/><circle cx="260.5" cy="471.2" r="3.5"/><circle cx="262.4" cy="474.9" r="3.5"/><circle cx="268.5" cy="461.6" r="3.5"/><circle cx="279.8" cy="451.4" r="3.5"/><circle cx="292.5" cy="443.4" r="3.5"/><circle cx="295.4" cy="440.9" r="3.5"/><circle cx="296.7" cy="437.6" r="3.5"/><circle cx="296.9" cy="435.5" r="3.5"/><circle cx="304.0" cy="457.2" r="3.5"/><circle cx="306.4" cy="459.4" r="3.5"/><circle cx="306.8" cy="461.5" r="3.5"/><circle cx="308.4" cy="461.5" r="3.5"/><circle cx="318.9" cy="476.0" r="3.5"/><circle cx="320.4" cy="474.6" r="3.5"/><circle cx="332.5" cy="454.4" r="3.5"/><circle cx="349.8" cy="447.6" r="3.5"/><circle cx="351.6" cy="444.8" r="3.5"/><circle cx="354.9" cy="444.1" r="3.5"/><circle cx="363.2" cy="462.7" r="3.5"/><circle cx="373.4" cy="462.7" r="3.5"/><circle cx="388.3" cy="444.6" r="3.5"/><circle cx="390.0" cy="443.6" r="3.5"/><circle cx="392.5" cy="444.4" r="3.5"/><circle cx="393.4" cy="446.4" r="3.5"/><circle cx="394.9" cy="446.7" r="3.5"/><circle cx="395.7" cy="445.1" r="3.5"/><circle cx="396.4" cy="445.4" r="3.5"/><circle cx="396.4" cy="447.4" r="3.5"/><circle cx="396.6" cy="451.4" r="3.5"/><circle cx="400.8" cy="443.9" r="3.5"/><circle cx="401.5" cy="445.9" r="3.5"/><circle cx="418.1" cy="463.8" r="3.5"/><circle cx="427.2" cy="463.0" r="3.5"/><circle cx="431.5" cy="472.0" r="3.5"/><circle cx="431.7" cy="470.0" r="3.5"/><circle cx="433.7" cy="467.1" r="3.5"/><circle cx="435.3" cy="466.2" r="3.5"/><circle cx="452.0" cy="458.0" r="3.5"/><circle cx="452.5" cy="460.1" r="3.5"/></g>
<path d="M69.61,219.42 L70.60,221.47 L71.59,223.48 L72.58,225.44 L73.57,227.37 L74.56,229.25 L75.55,231.08 L76.54,232.88 L77.53,234.64 L78.52,236.36 L79.51,238.04 L80.50,239.69 L81.49,241.30 L82.49,242.87 L83.48,244.41 L84.47,245.92 L85.46,247.39 L86.45,248.83 L87.44,250.24 L88.43,251.62 L89.42,252.97 L90.41,254.28 L91.40,255.57 L92.39,256.84 L93.38,258.07 L94.37,259.28 L95.36,260.46 L96.35,261.61 L97.34,262.74 L98.33,263.84 L99.32,264.92 L100.31,265.98 L101.30,267.01 L102.29,268.02 L103.28,269.01 L104.27,269.98 L105.26,270.92 L106.25,271.85 L107.24,272.75 L108.23,273.63 L109.22,274.50 L110.21,275.34 L111.20,276.17 L112.19,276.98 L113.18,277.77 L114.17,278.55 L115.16,279.30 L116.15,280.05 L117.14,280.77 L118.13,281.48 L119.12,282.17 L120.11,282.85 L121.10,283.51 L122.09,284.16 L123.08,284.79 L124.07,285.41 L125.06,286.02 L126.05,286.61 L127.04,287.19 L128.03,287.76 L129.02,288.32 L130.01,288.86 L131.00,289.39 L132.00,289.91 L132.99,290.42 L133.98,290.92 L134.97,291.40 L135.96,291.88 L136.95,292.34 L137.94,292.80 L138.93,293.24 L139.92,293.68 L140.91,294.10 L141.90,294.52 L142.89,294.92 L143.88,295.32 L144.87,295.71 L145.86,296.09 L146.85,296.47 L147.84,296.83 L148.83,297.19 L149.82,297.53 L150.81,297.88 L151.80,298.21 L152.79,298.53 L153.78,298.85 L154.77,299.17 L155.76,299.47 L156.75,299.77 L157.74,300.06 L158.73,300.35 L159.72,300.63 L160.71,300.90 L161.70,301.17 L162.69,301.43 L163.68,301.68 L164.67,301.93 L165.66,302.18 L166.65,302.42 L167.64,302.65 L168.63,302.88 L169.62,303.10 L170.61,303.32 L171.60,303.53 L172.59,303.74 L173.58,303.95 L174.57,304.15 L175.56,304.34 L176.55,304.54 L177.54,304.72 L178.53,304.91 L179.52,305.08 L180.51,305.26 L181.51,305.43 L182.50,305.60 L183.49,305.76 L184.48,305.92 L185.47,306.08 L186.46,306.23 L187.45,306.38 L188.44,306.53 L189.43,306.67 L190.42,306.81 L191.41,306.95 L192.40,307.09 L193.39,307.22 L194.38,307.35 L195.37,307.47 L196.36,307.59 L197.35,307.71 L198.34,307.83 L199.33,307.95 L200.32,308.06 L201.31,308.17 L202.30,308.28 L203.29,308.38 L204.28,308.48 L205.27,308.59 L206.26,308.68 L207.25,308.78 L208.24,308.87 L209.23,308.97 L210.22,309.06 L211.21,309.14 L212.20,309.23 L213.19,309.32 L214.18,309.40 L215.17,309.48 L216.16,309.56 L217.15,309.63 L218.14,309.71 L219.13,309.78 L220.12,309.86 L221.11,309.93 L222.10,310.00 L223.09,310.06 L224.08,310.13 L225.07,310.19 L226.06,310.26 L227.05,310.32 L228.04,310.38 L229.03,310.44 L230.02,310.50 L231.02,310.55 L232.01,310.61 L233.00,310.66 L233.99,310.71 L234.98,310.77 L235.97,310.82 L236.96,310.87 L237.95,310.92 L238.94,310.96 L239.93,311.01 L240.92,311.05 L241.91,311.10 L242.90,311.14 L243.89,311.18 L244.88,311.23 L245.87,311.27 L246.86,311.31 L247.85,311.34 L248.84,311.38 L249.83,311.42 L250.82,311.46 L251.81,311.49 L252.80,311.53 L253.79,311.56 L254.78,311.59 L255.77,311.63 L256.76,311.66 L257.75,311.69 L258.74,311.72 L259.73,311.75 L260.72,311.78 L261.71,311.81 L262.70,311.83 L263.69,311.86 L264.68,311.89 L265.67,311.91 L266.66,311.94 L267.65,311.96 L268.64,311.99 L269.63,312.01 L270.62,312.04 L271.61,312.06 L272.60,312.08 L273.59,312.10 L274.58,312.12 L275.57,312.14 L276.56,312.17 L277.55,312.19 L278.54,312.20 L279.53,312.22 L280.52,312.24 L281.52,312.26 L282.51,312.28 L283.50,312.30 L284.49,312.31 L285.48,312.33 L286.47,312.35 L287.46,312.36 L288.45,312.38 L289.44,312.39 L290.43,312.41 L291.42,312.42 L292.41,312.44 L293.40,312.45 L294.39,312.46 L295.38,312.48 L296.37,312.49 L297.36,312.50 L298.35,312.52 L299.34,312.53 L300.33,312.54 L301.32,312.55 L302.31,312.56 L303.30,312.57 L304.29,312.59 L305.28,312.60 L306.27,312.61 L307.26,312.62 L308.25,312.63 L309.24,312.64 L310.23,312.65 L311.22,312.66 L312.21,312.67 L313.20,312.67 L314.19,312.68 L315.18,312.69 L316.17,312.70 L317.16,312.71 L318.15,312.72 L319.14,312.72 L320.13,312.73 L321.12,312.74 L322.11,312.75 L323.10,312.75 L324.09,312.76 L325.08,312.77 L326.07,312.77 L327.06,312.78 L328.05,312.79 L329.04,312.79 L330.03,312.80 L331.03,312.81 L332.02,312.81 L333.01,312.82 L334.00,312.82 L334.99,312.83 L335.98,312.83 L336.97,312.84 L337.96,312.84 L338.95,312.85 L339.94,312.85 L340.93,312.86 L341.92,312.86 L342.91,312.87 L343.90,312.87 L344.89,312.88 L345.88,312.88 L346.87,312.89 L347.86,312.89 L348.85,312.89 L349.84,312.90 L350.83,312.90 L351.82,312.91 L352.81,312.91 L353.80,312.91 L354.79,312.92 L355.78,312.92 L356.77,312.92 L357.76,312.93 L358.75,312.93 L359.74,312.93 L360.73,312.94 L361.72,312.94 L362.71,312.94 L363.70,312.95 L364.69,312.95 L365.68,312.95 L366.67,312.95 L367.66,312.96 L368.65,312.96 L369.64,312.96 L370.63,312.96 L371.62,312.97 L372.61,312.97 L373.60,312.97 L374.59,312.97 L375.58,312.98 L376.57,312.98 L377.56,312.98 L378.55,312.98 L379.54,312.98 L380.54,312.99 L381.53,312.99 L382.52,312.99 L383.51,312.99 L384.50,312.99 L385.49,313.00 L386.48,313.00 L387.47,313.00 L388.46,313.00 L389.45,313.00 L390.44,313.00 L391.43,313.00 L392.42,313.01 L393.41,313.01 L394.40,313.01 L395.39,313.01 L396.38,313.01 L397.37,313.01 L398.36,313.01 L399.35,313.02 L400.34,313.02 L401.33,313.02 L402.32,313.02 L403.31,313.02 L404.30,313.02 L405.29,313.02 L406.28,313.02 L407.27,313.03 L408.26,313.03 L409.25,313.03 L410.24,313.03 L411.23,313.03 L412.22,313.03 L413.21,313.03 L414.20,313.03 L415.19,313.03 L416.18,313.03 L417.17,313.04 L418.16,313.04 L419.15,313.04 L420.14,313.04 L421.13,313.04 L422.12,313.04 L423.11,313.04 L424.10,313.04 L425.09,313.04 L426.08,313.04 L427.07,313.04 L428.06,313.04 L429.05,313.04 L430.05,313.05 L431.04,313.05 L432.03,313.05 L433.02,313.05 L434.01,313.05 L435.00,313.05 L435.99,313.05 L436.98,313.05 L437.97,313.05 L438.96,313.05 L439.95,313.05 L440.94,313.05 L441.93,313.05 L442.92,313.05 L443.91,313.05 L444.90,313.05 L445.89,313.05 L446.88,313.05 L447.87,313.05 L448.86,313.06 L449.85,313.06 L450.84,313.06 L451.83,313.06 L452.82,313.06 L453.81,313.06 L454.80,313.06 L455.79,313.06 L456.78,313.06 L457.77,313.06 L458.76,313.06 L459.75,313.06 L460.74,313.06 L461.73,313.06 L462.72,313.06 L463.71,313.06 L464.70,313.06 L465.69,313.06" fill="none" stroke="#ff0000" stroke-width="3.0" stroke-linejoin="round"/>
<path d="M68.28,379.48 L68.94,383.79 L69.60,388.40 L70.26,393.28 L70.92,398.39 L71.59,403.72 L72.25,409.22 L72.91,414.88 L73.57,420.67 L74.23,426.54 L74.89,432.48 L75.55,438.44 L76.22,444.42 L76.88,450.36 L77.54,456.25 L78.20,462.05 L78.86,467.74 L79.52,473.30 L80.18,478.69 L80.85,483.89 L81.51,488.88 L82.17,493.64 L82.83,498.15 L83.49,502.39 L84.15,506.34 L84.81,509.99 L85.48,513.32 L86.14,516.32 L86.80,518.98 L87.46,521.29 L88.12,523.25 L88.78,524.85 L89.45,526.09 L90.11,526.96 L90.77,527.48 L91.43,527.63 L92.09,527.43 L92.75,526.88 L93.41,525.99 L94.08,524.77 L94.74,523.22 L95.40,521.37 L96.06,519.22 L96.72,516.78 L97.38,514.08 L98.04,511.14 L98.71,507.96 L99.37,504.57 L100.03,500.99 L100.69,497.23 L101.35,493.33 L102.01,489.29 L102.67,485.15 L103.34,480.92 L104.00,476.62 L104.66,472.28 L105.32,467.93 L105.98,463.57 L106.64,459.24 L107.30,454.95 L107.97,450.72 L108.63,446.58 L109.29,442.55 L109.95,438.63 L110.61,434.85 L111.27,431.23 L111.93,427.78 L112.60,424.52 L113.26,421.45 L113.92,418.60 L114.58,415.97 L115.24,413.57 L115.90,411.42 L116.57,409.51 L117.23,407.86 L117.89,406.46 L118.55,405.33 L119.21,404.47 L119.87,403.86 L120.53,403.52 L121.20,403.45 L121.86,403.63 L122.52,404.06 L123.18,404.75 L123.84,405.67 L124.50,406.83 L125.16,408.22 L125.83,409.81 L126.49,411.62 L127.15,413.61 L127.81,415.79 L128.47,418.13 L129.13,420.62 L129.79,423.26 L130.46,426.01 L131.12,428.88 L131.78,431.83 L132.44,434.87 L133.10,437.96 L133.76,441.10 L134.42,444.27 L135.09,447.45 L135.75,450.62 L136.41,453.78 L137.07,456.91 L137.73,459.98 L138.39,463.00 L139.06,465.93 L139.72,468.78 L140.38,471.52 L141.04,474.14 L141.70,476.64 L142.36,479.00 L143.02,481.22 L143.69,483.28 L144.35,485.18 L145.01,486.90 L145.67,488.45 L146.33,489.82 L146.99,491.00 L147.65,491.99 L148.32,492.79 L148.98,493.39 L149.64,493.81 L150.30,494.03 L150.96,494.06 L151.62,493.90 L152.28,493.56 L152.95,493.03 L153.61,492.34 L154.27,491.47 L154.93,490.43 L155.59,489.25 L156.25,487.91 L156.91,486.44 L157.58,484.83 L158.24,483.11 L158.90,481.27 L159.56,479.34 L160.22,477.32 L160.88,475.22 L161.54,473.05 L162.21,470.83 L162.87,468.57 L163.53,466.27 L164.19,463.96 L164.85,461.64 L165.51,459.32 L166.18,457.02 L166.84,454.74 L167.50,452.50 L168.16,450.31 L168.82,448.18 L169.48,446.11 L170.14,444.12 L170.81,442.22 L171.47,440.41 L172.13,438.70 L172.79,437.10 L173.45,435.61 L174.11,434.24 L174.77,433.00 L175.44,431.89 L176.10,430.91 L176.76,430.07 L177.42,429.36 L178.08,428.80 L178.74,428.38 L179.40,428.09 L180.07,427.95 L180.73,427.95 L181.39,428.08 L182.05,428.35 L182.71,428.75 L183.37,429.28 L184.03,429.93 L184.70,430.70 L185.36,431.58 L186.02,432.57 L186.68,433.66 L187.34,434.84 L188.00,436.11 L188.67,437.46 L189.33,438.88 L189.99,440.37 L190.65,441.91 L191.31,443.49 L191.97,445.12 L192.63,446.77 L193.30,448.45 L193.96,450.14 L194.62,451.83 L195.28,453.52 L195.94,455.20 L196.60,456.86 L197.26,458.49 L197.93,460.08 L198.59,461.63 L199.25,463.13 L199.91,464.58 L200.57,465.96 L201.23,467.27 L201.89,468.50 L202.56,469.66 L203.22,470.74 L203.88,471.72 L204.54,472.61 L205.20,473.41 L205.86,474.11 L206.52,474.71 L207.19,475.21 L207.85,475.61 L208.51,475.91 L209.17,476.10 L209.83,476.19 L210.49,476.18 L211.16,476.07 L211.82,475.86 L212.48,475.55 L213.14,475.15 L213.80,474.67 L214.46,474.09 L215.12,473.44 L215.79,472.71 L216.45,471.90 L217.11,471.03 L217.77,470.10 L218.43,469.10 L219.09,468.06 L219.75,466.97 L220.42,465.84 L221.08,464.68 L221.74,463.49 L222.40,462.28 L223.06,461.06 L223.72,459.82 L224.38,458.59 L225.05,457.35 L225.71,456.13 L226.37,454.92 L227.03,453.74 L227.69,452.58 L228.35,451.45 L229.01,450.36 L229.68,449.32 L230.34,448.32 L231.00,447.37 L231.66,446.47 L232.32,445.63 L232.98,444.86 L233.64,444.15 L234.31,443.51 L234.97,442.93 L235.63,442.43 L236.29,442.00 L236.95,441.65 L237.61,441.37 L238.28,441.16 L238.94,441.03 L239.60,440.98 L240.26,441.00 L240.92,441.09 L241.58,441.25 L242.24,441.48 L242.91,441.78 L243.57,442.15 L244.23,442.57 L244.89,443.06 L245.55,443.60 L246.21,444.19 L246.87,444.84 L247.54,445.52 L248.20,446.25 L248.86,447.02 L249.52,447.82 L250.18,448.65 L250.84,449.50 L251.50,450.37 L252.17,451.25 L252.83,452.15 L253.49,453.05 L254.15,453.95 L254.81,454.85 L255.47,455.74 L256.13,456.62 L256.80,457.48 L257.46,458.33 L258.12,459.14 L258.78,459.93 L259.44,460.69 L260.10,461.42 L260.77,462.11 L261.43,462.76 L262.09,463.36 L262.75,463.92 L263.41,464.43 L264.07,464.89 L264.73,465.30 L265.40,465.66 L266.06,465.97 L266.72,466.22 L267.38,466.42 L268.04,466.56 L268.70,466.64 L269.36,466.68 L270.03,466.66 L270.69,466.58 L271.35,466.46 L272.01,466.28 L272.67,466.06 L273.33,465.78 L273.99,465.47 L274.66,465.11 L275.32,464.71 L275.98,464.27 L276.64,463.79 L277.30,463.29 L277.96,462.75 L278.62,462.19 L279.29,461.60 L279.95,461.00 L280.61,460.37 L281.27,459.74 L281.93,459.09 L282.59,458.44 L283.25,457.78 L283.92,457.12 L284.58,456.46 L285.24,455.82 L285.90,455.18 L286.56,454.55 L287.22,453.94 L287.89,453.34 L288.55,452.77 L289.21,452.21 L289.87,451.69 L290.53,451.19 L291.19,450.72 L291.85,450.29 L292.52,449.88 L293.18,449.51 L293.84,449.18 L294.50,448.89 L295.16,448.63 L295.82,448.41 L296.48,448.24 L297.15,448.10 L297.81,448.00 L298.47,447.94 L299.13,447.92 L299.79,447.94 L300.45,448.00 L301.11,448.10 L301.78,448.23 L302.44,448.40 L303.10,448.60 L303.76,448.84 L304.42,449.11 L305.08,449.40 L305.74,449.73 L306.41,450.08 L307.07,450.45 L307.73,450.84 L308.39,451.26 L309.05,451.69 L309.71,452.13 L310.38,452.59 L311.04,453.05 L311.70,453.53 L312.36,454.00 L313.02,454.48 L313.68,454.96 L314.34,455.44 L315.01,455.91 L315.67,456.38 L316.33,456.84 L316.99,457.28 L317.65,457.71 L318.31,458.13 L318.97,458.53 L319.64,458.91 L320.30,459.27 L320.96,459.61 L321.62,459.93 L322.28,460.22 L322.94,460.48 L323.60,460.72 L324.27,460.93 L324.93,461.12 L325.59,461.27 L326.25,461.40 L326.91,461.49 L327.57,461.56 L328.23,461.60 L328.90,461.61 L329.56,461.59 L330.22,461.54 L330.88,461.47 L331.54,461.37 L332.20,461.24 L332.86,461.09 L333.53,460.91 L334.19,460.72 L334.85,460.50 L335.51,460.26 L336.17,460.00 L336.83,459.73 L337.50,459.44 L338.16,459.13 L338.82,458.82 L339.48,458.49 L340.14,458.16 L340.80,457.82 L341.46,457.47 L342.13,457.12 L342.79,456.77 L343.45,456.42 L344.11,456.08 L344.77,455.73 L345.43,455.39 L346.09,455.06 L346.76,454.74 L347.42,454.42 L348.08,454.12 L348.74,453.83 L349.40,453.55 L350.06,453.29 L350.72,453.05 L351.39,452.82 L352.05,452.61 L352.71,452.42 L353.37,452.25 L354.03,452.10 L354.69,451.97 L355.35,451.86 L356.02,451.77 L356.68,451.70 L357.34,451.65 L358.00,451.63 L358.66,451.62 L359.32,451.64 L359.99,451.68 L360.65,451.73 L361.31,451.81 L361.97,451.90 L362.63,452.02 L363.29,452.15 L363.95,452.29 L364.62,452.46 L365.28,452.63 L365.94,452.82 L366.60,453.02 L367.26,453.24 L367.92,453.46 L368.58,453.69 L369.25,453.93 L369.91,454.17 L370.57,454.42 L371.23,454.67 L371.89,454.93 L372.55,455.19 L373.21,455.44 L373.88,455.69 L374.54,455.95 L375.20,456.19 L375.86,456.43 L376.52,456.67 L377.18,456.90 L377.84,457.12 L378.51,457.33 L379.17,457.53 L379.83,457.72 L380.49,457.89 L381.15,458.06 L381.81,458.21 L382.48,458.35 L383.14,458.47 L383.80,458.58 L384.46,458.67 L385.12,458.75 L385.78,458.81 L386.44,458.86 L387.11,458.89 L387.77,458.91 L388.43,458.91 L389.09,458.89 L389.75,458.87 L390.41,458.82 L391.07,458.76 L391.74,458.69 L392.40,458.61 L393.06,458.51 L393.72,458.40 L394.38,458.28 L395.04,458.15 L395.70,458.01 L396.37,457.87 L397.03,457.71 L397.69,457.55 L398.35,457.38 L399.01,457.20 L399.67,457.02 L400.33,456.84 L401.00,456.66 L401.66,456.47 L402.32,456.28 L402.98,456.10 L403.64,455.91 L404.30,455.73 L404.96,455.55 L405.63,455.37 L406.29,455.20 L406.95,455.04 L407.61,454.88 L408.27,454.73 L408.93,454.58 L409.60,454.44 L410.26,454.32 L410.92,454.20 L411.58,454.09 L412.24,453.99 L412.90,453.90 L413.56,453.82 L414.23,453.76 L414.89,453.70 L415.55,453.66 L416.21,453.62 L416.87,453.60 L417.53,453.59 L418.19,453.59 L418.86,453.60 L419.52,453.63 L420.18,453.66 L420.84,453.70 L421.50,453.76 L422.16,453.82 L422.82,453.89 L423.49,453.97 L424.15,454.06 L424.81,454.16 L425.47,454.26 L426.13,454.37 L426.79,454.48 L427.45,454.60 L428.12,454.73 L428.78,454.85 L429.44,454.99 L430.10,455.12 L430.76,455.25 L431.42,455.39 L432.09,455.53 L432.75,455.66 L433.41,455.80 L434.07,455.93 L434.73,456.06 L435.39,456.19 L436.05,456.31 L436.72,456.43 L437.38,456.55 L438.04,456.66 L438.70,456.76 L439.36,456.86 L440.02,456.96 L440.68,457.04 L441.35,457.12 L442.01,457.19 L442.67,457.25 L443.33,457.31 L443.99,457.36 L444.65,457.40 L445.31,457.43 L445.98,457.45 L446.64,457.47 L447.30,457.47 L447.96,457.47 L448.62,457.46 L449.28,457.44 L449.94,457.42 L450.61,457.39 L451.27,457.35 L451.93,457.30 L452.59,457.25 L453.25,457.19 L453.91,457.12 L454.57,457.05 L455.24,456.97 L455.90,456.89 L456.56,456.81 L457.22,456.72 L457.88,456.63 L458.54,456.54 L459.21,456.44 L459.87,456.34 L460.53,456.25 L461.19,456.15 L461.85,456.05 L462.51,455.95 L463.17,455.85 L463.84,455.75 L464.50,455.66 L465.16,455.56" fill="none" stroke="#ff0000" stroke-width="3.2" stroke-linejoin="round"/>
<defs><clipPath id="cd"><rect x="524.9" y="216" width="156.5" height="323.1"/></clipPath></defs>
<g clip-path="url(#cd)">
<path d="M524.00,521.81 L524.39,521.74 L524.79,521.67 L525.18,521.60 L525.58,521.53 L525.98,521.46 L526.37,521.39 L526.76,521.32 L527.16,521.24 L527.55,521.17 L527.95,521.09 L528.35,521.01 L528.74,520.94 L529.13,520.86 L529.53,520.78 L529.92,520.70 L530.32,520.61 L530.72,520.53 L531.11,520.45 L531.50,520.36 L531.90,520.28 L532.29,520.19 L532.69,520.10 L533.09,520.01 L533.48,519.92 L533.88,519.83 L534.27,519.73 L534.66,519.64 L535.06,519.54 L535.46,519.44 L535.85,519.34 L536.25,519.24 L536.64,519.14 L537.03,519.04 L537.43,518.94 L537.83,518.83 L538.22,518.72 L538.62,518.61 L539.01,518.50 L539.40,518.39 L539.80,518.28 L540.20,518.16 L540.59,518.04 L540.99,517.93 L541.38,517.80 L541.77,517.68 L542.17,517.56 L542.57,517.43 L542.96,517.30 L543.36,517.17 L543.75,517.04 L544.14,516.91 L544.54,516.77 L544.93,516.64 L545.33,516.50 L545.73,516.35 L546.12,516.21 L546.51,516.06 L546.91,515.91 L547.30,515.76 L547.70,515.61 L548.10,515.45 L548.49,515.29 L548.88,515.13 L549.28,514.97 L549.67,514.80 L550.07,514.63 L550.47,514.46 L550.86,514.29 L551.25,514.11 L551.65,513.93 L552.04,513.74 L552.44,513.56 L552.84,513.37 L553.23,513.17 L553.62,512.98 L554.02,512.78 L554.41,512.58 L554.81,512.37 L555.21,512.16 L555.60,511.95 L556.00,511.73 L556.39,511.51 L556.78,511.28 L557.18,511.05 L557.58,510.82 L557.97,510.58 L558.37,510.34 L558.76,510.09 L559.15,509.84 L559.55,509.58 L559.95,509.32 L560.34,509.06 L560.74,508.79 L561.13,508.51 L561.52,508.23 L561.92,507.95 L562.32,507.66 L562.71,507.36 L563.11,507.06 L563.50,506.75 L563.89,506.43 L564.29,506.11 L564.68,505.79 L565.08,505.45 L565.48,505.11 L565.87,504.76 L566.26,504.41 L566.66,504.05 L567.05,503.68 L567.45,503.31 L567.85,502.92 L568.24,502.53 L568.63,502.13 L569.03,501.72 L569.42,501.30 L569.82,500.88 L570.22,500.44 L570.61,500.00 L571.00,499.55 L571.40,499.08 L571.79,498.61 L572.19,498.12 L572.59,497.63 L572.98,497.12 L573.38,496.61 L573.77,496.08 L574.16,495.54 L574.56,494.99 L574.96,494.42 L575.35,493.84 L575.75,493.25 L576.14,492.65 L576.53,492.03 L576.93,491.39 L577.33,490.74 L577.72,490.08 L578.12,489.40 L578.51,488.70 L578.90,487.99 L579.30,487.26 L579.70,486.51 L580.09,485.75 L580.49,484.96 L580.88,484.16 L581.27,483.34 L581.67,482.49 L582.07,481.63 L582.46,480.74 L582.86,479.83 L583.25,478.90 L583.64,477.95 L584.04,476.97 L584.43,475.96 L584.83,474.93 L585.23,473.87 L585.62,472.79 L586.01,471.68 L586.41,470.53 L586.80,469.36 L587.20,468.16 L587.60,466.93 L587.99,465.66 L588.38,464.36 L588.78,463.03 L589.17,461.66 L589.57,460.25 L589.97,458.81 L590.36,457.33 L590.75,455.81 L591.15,454.25 L591.54,452.64 L591.94,451.00 L592.34,449.31 L592.73,447.58 L593.12,445.80 L593.52,443.98 L593.91,442.10 L594.31,440.18 L594.71,438.21 L595.10,436.19 L595.50,434.12 L595.89,431.99 L596.28,429.81 L596.68,427.58 L597.08,425.30 L597.47,422.95 L597.87,420.55 L598.26,418.10 L598.65,415.59 L599.05,413.02 L599.44,410.40 L599.84,407.72 L600.24,404.98 L600.63,402.19 L601.02,399.35 L601.42,396.45 L601.82,393.50 L602.21,390.50 L602.61,387.46 L603.00,384.37 L603.39,381.24 L603.79,378.07 L604.18,374.86 L604.58,371.62 L604.98,368.36 L605.37,365.08 L605.76,361.78 L606.16,358.48 L606.56,355.17 L606.95,351.87 L607.35,348.59 L607.74,345.33 L608.13,342.10 L608.53,338.91 L608.92,335.77 L609.32,332.70 L609.72,329.70 L610.11,326.79 L610.50,323.97 L610.90,321.26 L611.29,318.67 L611.69,316.21 L612.09,313.89 L612.48,311.73 L612.88,309.74 L613.27,307.91 L613.66,306.28 L614.06,304.83 L614.46,303.59 L614.85,302.55 L615.25,301.73 L615.64,301.13 L616.03,300.76 L616.43,300.60 L616.83,300.68 L617.22,300.97 L617.62,301.50 L618.01,302.24 L618.40,303.20 L618.80,304.37 L619.19,305.74 L619.59,307.31 L619.99,309.07 L620.38,311.01 L620.77,313.11 L621.17,315.37 L621.57,317.78 L621.96,320.33 L622.36,323.00 L622.75,325.78 L623.14,328.66 L623.54,331.63 L623.93,334.68 L624.33,337.79 L624.73,340.96 L625.12,344.18 L625.51,347.43 L625.91,350.71 L626.31,354.00 L626.70,357.31 L627.10,360.61 L627.49,363.91 L627.88,367.20 L628.28,370.47 L628.67,373.72 L629.07,376.93 L629.47,380.12 L629.86,383.26 L630.25,386.37 L630.65,389.43 L631.04,392.45 L631.44,395.41 L631.84,398.33 L632.23,401.19 L632.62,404.00 L633.02,406.76 L633.41,409.46 L633.81,412.10 L634.21,414.69 L634.60,417.22 L635.00,419.69 L635.39,422.11 L635.78,424.47 L636.18,426.78 L636.58,429.03 L636.97,431.23 L637.37,433.37 L637.76,435.46 L638.15,437.50 L638.55,439.49 L638.94,441.43 L639.34,443.32 L639.74,445.16 L640.13,446.95 L640.52,448.70 L640.92,450.41 L641.32,452.07 L641.71,453.68 L642.11,455.26 L642.50,456.79 L642.89,458.29 L643.29,459.74 L643.68,461.16 L644.08,462.54 L644.48,463.89 L644.87,465.20 L645.26,466.48 L645.66,467.73 L646.06,468.94 L646.45,470.12 L646.85,471.27 L647.24,472.40 L647.63,473.49 L648.03,474.56 L648.42,475.60 L648.82,476.61 L649.22,477.60 L649.61,478.57 L650.00,479.51 L650.40,480.42 L650.79,481.32 L651.19,482.19 L651.59,483.04 L651.98,483.87 L652.38,484.68 L652.77,485.47 L653.16,486.25 L653.56,487.00 L653.96,487.74 L654.35,488.45 L654.75,489.16 L655.14,489.84 L655.53,490.51 L655.93,491.16 L656.33,491.80 L656.72,492.43 L657.12,493.04 L657.51,493.63 L657.90,494.22 L658.30,494.79 L658.69,495.34 L659.09,495.89 L659.49,496.42 L659.88,496.94 L660.27,497.45 L660.67,497.95 L661.07,498.44 L661.46,498.92 L661.86,499.38 L662.25,499.84 L662.64,500.29 L663.04,500.73 L663.43,501.15 L663.83,501.57 L664.23,501.99 L664.62,502.39 L665.01,502.78 L665.41,503.17 L665.81,503.55 L666.20,503.92 L666.60,504.28 L666.99,504.64 L667.38,504.99 L667.78,505.33 L668.17,505.67 L668.57,506.00 L668.97,506.32 L669.36,506.64 L669.75,506.95 L670.15,507.25 L670.54,507.55 L670.94,507.84 L671.34,508.13 L671.73,508.41 L672.12,508.69 L672.52,508.96 L672.91,509.23 L673.31,509.49 L673.71,509.75 L674.10,510.00 L674.50,510.25 L674.89,510.49 L675.28,510.73 L675.68,510.97 L676.08,511.20 L676.47,511.43 L676.87,511.65 L677.26,511.87 L677.65,512.08 L678.05,512.30 L678.44,512.50 L678.84,512.71 L679.24,512.91 L679.63,513.11 L680.02,513.30 L680.42,513.49 L680.82,513.68 L681.21,513.86 L681.61,514.04 L682.00,514.22" fill="none" stroke="#ff0000" stroke-width="2.5"/>
<path d="M524.00,507.42 L524.39,507.28 L524.79,507.14 L525.18,506.99 L525.58,506.85 L525.98,506.70 L526.37,506.55 L526.76,506.39 L527.16,506.24 L527.55,506.08 L527.95,505.92 L528.35,505.76 L528.74,505.59 L529.13,505.43 L529.53,505.26 L529.92,505.08 L530.32,504.91 L530.72,504.73 L531.11,504.55 L531.50,504.37 L531.90,504.18 L532.29,503.99 L532.69,503.80 L533.09,503.60 L533.48,503.41 L533.88,503.20 L534.27,503.00 L534.66,502.79 L535.06,502.58 L535.46,502.37 L535.85,502.15 L536.25,501.93 L536.64,501.70 L537.03,501.48 L537.43,501.24 L537.83,501.01 L538.22,500.77 L538.62,500.52 L539.01,500.28 L539.40,500.02 L539.80,499.77 L540.20,499.51 L540.59,499.24 L540.99,498.97 L541.38,498.70 L541.77,498.42 L542.17,498.13 L542.57,497.85 L542.96,497.55 L543.36,497.25 L543.75,496.95 L544.14,496.64 L544.54,496.32 L544.93,496.00 L545.33,495.68 L545.73,495.34 L546.12,495.00 L546.51,494.66 L546.91,494.31 L547.30,493.95 L547.70,493.59 L548.10,493.21 L548.49,492.84 L548.88,492.45 L549.28,492.06 L549.67,491.66 L550.07,491.25 L550.47,490.83 L550.86,490.41 L551.25,489.98 L551.65,489.54 L552.04,489.09 L552.44,488.63 L552.84,488.17 L553.23,487.69 L553.62,487.21 L554.02,486.71 L554.41,486.20 L554.81,485.69 L555.21,485.16 L555.60,484.63 L556.00,484.08 L556.39,483.52 L556.78,482.95 L557.18,482.37 L557.58,481.77 L557.97,481.17 L558.37,480.55 L558.76,479.91 L559.15,479.27 L559.55,478.61 L559.95,477.93 L560.34,477.25 L560.74,476.54 L561.13,475.82 L561.52,475.09 L561.92,474.34 L562.32,473.57 L562.71,472.79 L563.11,471.99 L563.50,471.17 L563.89,470.33 L564.29,469.47 L564.68,468.60 L565.08,467.70 L565.48,466.79 L565.87,465.85 L566.26,464.89 L566.66,463.92 L567.05,462.91 L567.45,461.89 L567.85,460.84 L568.24,459.77 L568.63,458.67 L569.03,457.55 L569.42,456.40 L569.82,455.23 L570.22,454.03 L570.61,452.80 L571.00,451.54 L571.40,450.25 L571.79,448.93 L572.19,447.58 L572.59,446.21 L572.98,444.79 L573.38,443.35 L573.77,441.87 L574.16,440.36 L574.56,438.82 L574.96,437.23 L575.35,435.62 L575.75,433.96 L576.14,432.27 L576.53,430.54 L576.93,428.77 L577.33,426.96 L577.72,425.12 L578.12,423.23 L578.51,421.30 L578.90,419.33 L579.30,417.32 L579.70,415.26 L580.09,413.17 L580.49,411.03 L580.88,408.85 L581.27,406.63 L581.67,404.36 L582.07,402.06 L582.46,399.71 L582.86,397.32 L583.25,394.89 L583.64,392.41 L584.04,389.90 L584.43,387.36 L584.83,384.77 L585.23,382.15 L585.62,379.50 L586.01,376.81 L586.41,374.10 L586.80,371.36 L587.20,368.59 L587.60,365.81 L587.99,363.00 L588.38,360.19 L588.78,357.36 L589.17,354.53 L589.57,351.69 L589.97,348.86 L590.36,346.04 L590.75,343.23 L591.15,340.45 L591.54,337.68 L591.94,334.96 L592.34,332.27 L592.73,329.63 L593.12,327.04 L593.52,324.51 L593.91,322.06 L594.31,319.67 L594.71,317.38 L595.10,315.17 L595.50,313.07 L595.89,311.07 L596.28,309.18 L596.68,307.42 L597.08,305.78 L597.47,304.28 L597.87,302.92 L598.26,301.71 L598.65,300.65 L599.05,299.75 L599.44,299.01 L599.84,298.43 L600.24,298.02 L600.63,297.77 L601.02,297.70 L601.42,297.78 L601.82,298.01 L602.21,298.39 L602.61,298.91 L603.00,299.57 L603.39,300.37 L603.79,301.31 L604.18,302.39 L604.58,303.59 L604.98,304.92 L605.37,306.37 L605.76,307.93 L606.16,309.60 L606.56,311.38 L606.95,313.25 L607.35,315.22 L607.74,317.27 L608.13,319.40 L608.53,321.61 L608.92,323.88 L609.32,326.22 L609.72,328.61 L610.11,331.05 L610.50,333.53 L610.90,336.05 L611.29,338.60 L611.69,341.18 L612.09,343.78 L612.48,346.40 L612.88,349.03 L613.27,351.66 L613.66,354.30 L614.06,356.94 L614.46,359.57 L614.85,362.20 L615.25,364.82 L615.64,367.42 L616.03,370.00 L616.43,372.56 L616.83,375.11 L617.22,377.62 L617.62,380.12 L618.01,382.58 L618.40,385.02 L618.80,387.42 L619.19,389.80 L619.59,392.14 L619.99,394.44 L620.38,396.71 L620.77,398.95 L621.17,401.15 L621.57,403.32 L621.96,405.45 L622.36,407.54 L622.75,409.59 L623.14,411.61 L623.54,413.59 L623.93,415.54 L624.33,417.45 L624.73,419.32 L625.12,421.15 L625.51,422.95 L625.91,424.72 L626.31,426.45 L626.70,428.14 L627.10,429.80 L627.49,431.43 L627.88,433.02 L628.28,434.59 L628.67,436.11 L629.07,437.61 L629.47,439.08 L629.86,440.51 L630.25,441.92 L630.65,443.29 L631.04,444.64 L631.44,445.96 L631.84,447.25 L632.23,448.51 L632.62,449.75 L633.02,450.96 L633.41,452.15 L633.81,453.31 L634.21,454.44 L634.60,455.55 L635.00,456.64 L635.39,457.70 L635.78,458.75 L636.18,459.77 L636.58,460.77 L636.97,461.74 L637.37,462.70 L637.76,463.64 L638.15,464.56 L638.55,465.46 L638.94,466.34 L639.34,467.20 L639.74,468.04 L640.13,468.87 L640.52,469.68 L640.92,470.48 L641.32,471.25 L641.71,472.01 L642.11,472.76 L642.50,473.49 L642.89,474.21 L643.29,474.91 L643.68,475.60 L644.08,476.27 L644.48,476.93 L644.87,477.58 L645.26,478.22 L645.66,478.84 L646.06,479.45 L646.45,480.05 L646.85,480.64 L647.24,481.21 L647.63,481.78 L648.03,482.33 L648.42,482.87 L648.82,483.41 L649.22,483.93 L649.61,484.44 L650.00,484.95 L650.40,485.44 L650.79,485.92 L651.19,486.40 L651.59,486.87 L651.98,487.33 L652.38,487.78 L652.77,488.22 L653.16,488.65 L653.56,489.08 L653.96,489.50 L654.35,489.91 L654.75,490.31 L655.14,490.71 L655.53,491.10 L655.93,491.48 L656.33,491.85 L656.72,492.22 L657.12,492.59 L657.51,492.94 L657.90,493.29 L658.30,493.64 L658.69,493.98 L659.09,494.31 L659.49,494.64 L659.88,494.96 L660.27,495.28 L660.67,495.59 L661.07,495.89 L661.46,496.19 L661.86,496.49 L662.25,496.78 L662.64,497.07 L663.04,497.35 L663.43,497.63 L663.83,497.90 L664.23,498.17 L664.62,498.43 L665.01,498.69 L665.41,498.95 L665.81,499.20 L666.20,499.45 L666.60,499.69 L666.99,499.93 L667.38,500.17 L667.78,500.40 L668.17,500.63 L668.57,500.85 L668.97,501.08 L669.36,501.29 L669.75,501.51 L670.15,501.72 L670.54,501.93 L670.94,502.14 L671.34,502.34 L671.73,502.54 L672.12,502.74 L672.52,502.93 L672.91,503.12 L673.31,503.31 L673.71,503.50 L674.10,503.68 L674.50,503.86 L674.89,504.04 L675.28,504.21 L675.68,504.39 L676.08,504.56 L676.47,504.73 L676.87,504.89 L677.26,505.06 L677.65,505.22 L678.05,505.38 L678.44,505.53 L678.84,505.69 L679.24,505.84 L679.63,505.99 L680.02,506.14 L680.42,506.28 L680.82,506.43 L681.21,506.57 L681.61,506.71 L682.00,506.85" fill="none" stroke="#0a1eff" stroke-width="2.5" stroke-dasharray="8 4.5"/>
</g>
<g fill="#ff0000"><circle cx="532.7" cy="477.7" r="5"/><circle cx="550.8" cy="529.4" r="5"/><circle cx="568.5" cy="502.3" r="5"/><circle cx="586.3" cy="440.1" r="5"/><circle cx="603.7" cy="396.4" r="5"/><circle cx="622.1" cy="308.1" r="5"/><circle cx="639.7" cy="470.1" r="5"/><circle cx="657.2" cy="505.1" r="5"/><circle cx="675.2" cy="492.5" r="5"/></g>
<g fill="#fff" stroke="#0a1eff" stroke-width="2"><rect x="529.2" y="472.1" width="7" height="7"/><rect x="547.3" y="424.3" width="7" height="7"/><rect x="565.0" y="435.7" width="7" height="7"/><rect x="582.8" y="407.1" width="7" height="7"/><rect x="601.0" y="280.7" width="7" height="7"/><rect x="618.2" y="427.0" width="7" height="7"/><rect x="636.2" y="483.0" width="7" height="7"/><rect x="653.7" y="508.9" width="7" height="7"/><rect x="671.7" y="520.7" width="7" height="7"/></g>
<text x="626" y="242.4" font-family="'Liberation Sans', Arial, sans-serif" font-size="16.2" text-anchor="middle">590 kHz</text>
<path d="M602.4,251.5 V271.3" stroke="#0a1eff" stroke-width="1.2"/>
<path d="M617.5,251.5 V286" stroke="#ff0000" stroke-width="1.2"/>
<path d="M580.6,262.3 H594 M639.2,262.3 H626" stroke="#000" stroke-width="1.4"/>
<path d="M601.8,262.3 L590.5,257.6 L593.5,262.3 L590.5,267 Z" fill="#000"/>
<path d="M618.1,262.3 L629.4,257.6 L626.4,262.3 L629.4,267 Z" fill="#000"/></svg>
</body></html>
